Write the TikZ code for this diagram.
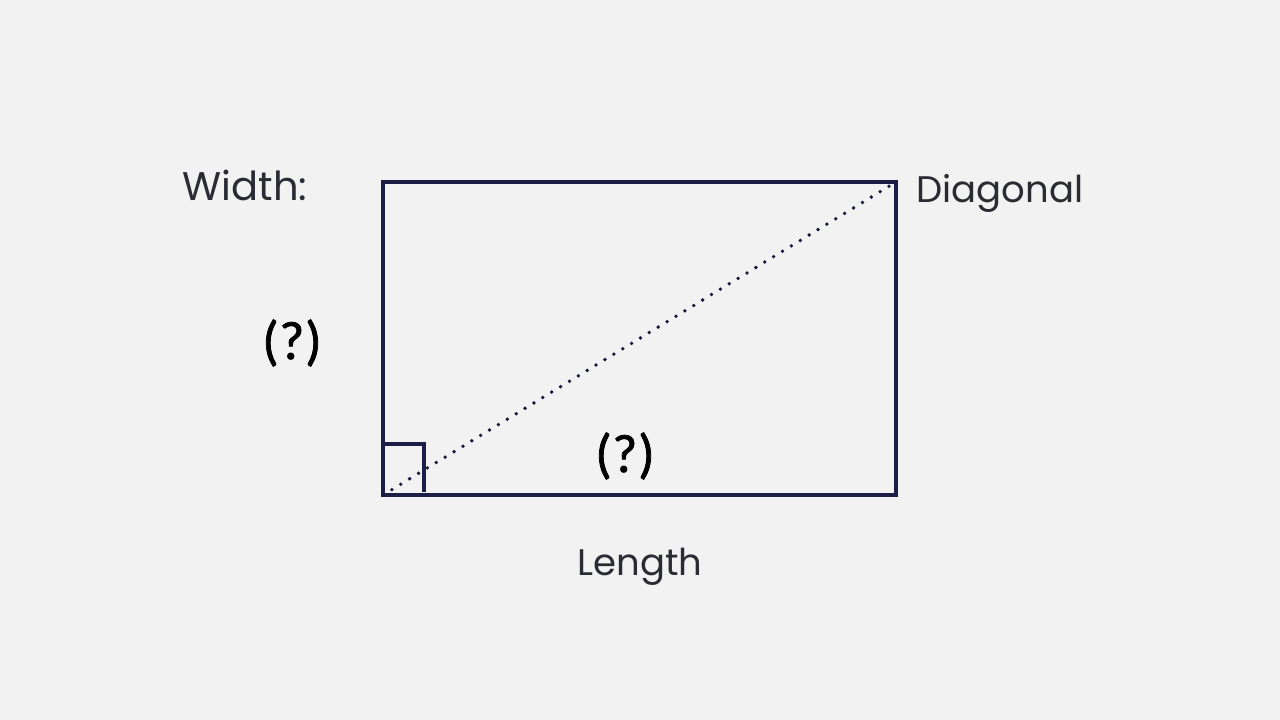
\documentclass[tikz,border=0pt]{standalone}
\usepackage{fontspec}
\setmainfont{Poppins}
\newfontfamily\qmfont[FakeBold=1.5]{Lato}
\definecolor{bg}{HTML}{F2F2F2}
\definecolor{navy}{HTML}{1C1E48}
\definecolor{txt}{HTML}{2A2B33}
\newcommand{\qmark}{(\kern3pt?\kern3pt)}
\begin{document}
\begin{tikzpicture}[x=1pt,y=-1pt,
  lbl/.style={text=txt,font=\fontsize{37}{42}\selectfont,inner sep=0pt},
  qm/.style={text=black,font=\fontsize{51}{55}\qmfont,inner sep=0pt},
  side/.style={draw=navy,line width=4pt},
  diag/.style={draw=navy!80!black,line width=3.8pt,dash pattern=on 0pt off 10.4pt,line cap=round}]
\fill[bg] (0,0) rectangle (1280,720);
\useasboundingbox (0,0) rectangle (1280,720);
\coordinate (bl) at (383,495);
\coordinate (tr) at (896,182);
\draw[side] (bl) rectangle (tr);
\draw[diag] (bl) -- (tr);
\draw[draw=navy,line width=3.5pt] (383,444) -- (424,444) -- (424,492);
\node[lbl,font=\fontsize{40}{44}\selectfont,anchor=base] (width) at (245,200) {Width:};
\node[lbl,anchor=base] (diagonal) at (1000,202) {Diagonal};
\node[lbl,anchor=base] (length) at (640,575) {Length};
\node[qm,anchor=base] (q1) at (292,359) {\qmark};
\node[qm,anchor=base] (q2) at (625,472) {\qmark};
\end{tikzpicture}
\end{document}
